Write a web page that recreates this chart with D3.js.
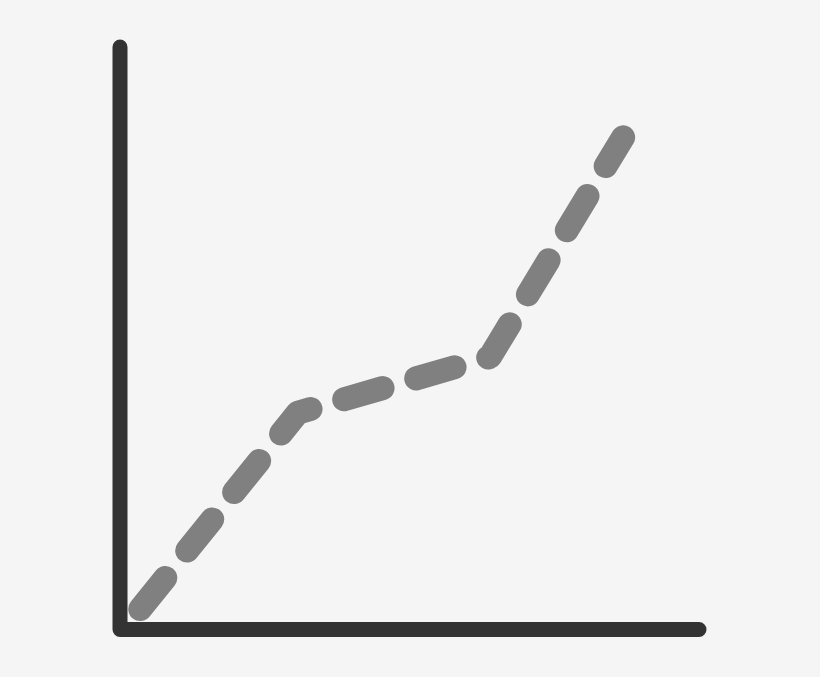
<!DOCTYPE html>
<html>
<head>
<meta charset="utf-8">
<script src="https://cdn.jsdelivr.net/npm/d3@7"></script>
<style>
  html, body { margin: 0; padding: 0; background: #f5f5f5; }
  svg { display: block; }
</style>
</head>
<body>
<svg id="chart" width="820" height="677"></svg>
<script>
// Data
const xValues = [0.35, 3.07, 6.39, 8.69];
const yValues = [0.35, 3.72, 4.68, 8.45];
const xDomain = [0, 10];
const yDomain = [0, 10];

const width = 820, height = 677;
const svg = d3.select("#chart");

svg.append("rect").attr("width", width).attr("height", height).attr("fill", "#f5f5f5");

const x = d3.scaleLinear().domain(xDomain).range([120, 699]);
const y = d3.scaleLinear().domain(yDomain).range([629.5, 47]);

const line = d3.line().x(d => x(d[0])).y(d => y(d[1]));

// Axes (L shape)
const axisPts = [[xDomain[0], yDomain[1]], [xDomain[0], yDomain[0]], [xDomain[1], yDomain[0]]];
svg.append("path")
  .attr("d", line(axisPts))
  .attr("fill", "none")
  .attr("stroke", "#333333")
  .attr("stroke-width", 15)
  .attr("stroke-linecap", "round")
  .attr("stroke-linejoin", "round");

// Dashed series
const pts = xValues.map((v, i) => [v, yValues[i]]);
svg.append("path")
  .attr("d", line(pts))
  .attr("fill", "none")
  .attr("stroke", "#808080")
  .attr("stroke-width", 24)
  .attr("stroke-dasharray", "40,35")
  .attr("stroke-linecap", "round")
  .attr("stroke-linejoin", "round");
</script>
</body>
</html>
